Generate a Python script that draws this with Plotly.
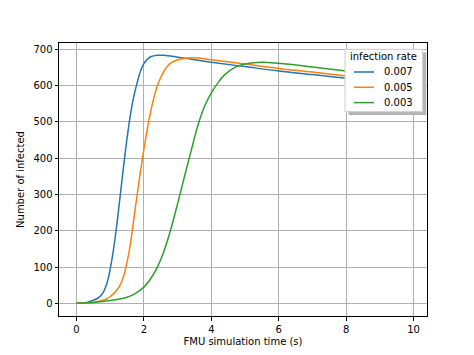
import plotly.graph_objects as go

# --- data ---
t_007 = [0, 0.3, 0.5, 0.6, 0.7, 0.8, 0.9, 1.0, 1.1, 1.2, 1.3, 1.4, 1.5, 1.6, 1.7, 1.8, 1.9, 2.0, 2.1, 2.2, 2.4, 2.6, 3.0, 3.5, 4.0, 5.0, 6.0, 7.0, 8.0, 9.0, 9.9]
v_007 = [1, 3, 9, 13, 20, 32, 55, 95, 150, 220, 300, 380, 455, 520, 570, 608, 640, 660, 672, 679, 683, 683, 678, 671, 664, 652, 640, 630, 620, 611, 603]

t_005 = [0, 0.5, 0.7, 0.9, 1.0, 1.1, 1.2, 1.3, 1.4, 1.5, 1.6, 1.7, 1.8, 1.9, 2.0, 2.1, 2.2, 2.3, 2.4, 2.5, 2.6, 2.7, 2.8, 3.0, 3.3, 3.6, 4.0, 5.0, 6.0, 7.0, 8.0, 9.0, 9.9]
v_005 = [1, 3, 7, 13, 19, 27, 37, 52, 76, 114, 165, 232, 300, 365, 425, 480, 528, 568, 600, 622, 640, 653, 662, 671, 676, 676, 671, 659, 647, 637, 626, 616, 607]

t_003 = [0, 0.5, 1.0, 1.5, 1.75, 2.0, 2.2, 2.4, 2.6, 2.8, 3.0, 3.2, 3.4, 3.6, 3.8, 4.0, 4.2, 4.4, 4.7, 5.0, 5.5, 6.0, 7.0, 8.0, 9.0, 9.9]
v_003 = [1, 3, 8, 17, 28, 45, 68, 100, 145, 205, 275, 348, 420, 490, 543, 580, 608, 630, 650, 659, 664, 661, 651, 640, 629, 619]

series_names = ["0.007", "0.005", "0.003"]
series_t = [t_007, t_005, t_003]
series_v = [v_007, v_005, v_003]
colors = ["#1f77b4", "#ff7f0e", "#2ca02c"]

x_ticks = [0, 2, 4, 6, 8, 10]
y_ticks = [0, 100, 200, 300, 400, 500, 600, 700]
legend_title = "infection rate"

FONT = "DejaVu Sans"

fig = go.Figure()
for name, t, v, c in zip(series_names, series_t, series_v, colors):
    fig.add_trace(go.Scatter(
        x=t, y=v, mode="lines", name=name, showlegend=False,
        line=dict(color=c, width=1.5, shape="spline", smoothing=1.0),
    ))

axis_common = dict(
    showline=True, mirror=True, linecolor="black", linewidth=1,
    ticks="outside", ticklen=3.5, tickwidth=1, tickcolor="black",
    showgrid=True, gridcolor="#b0b0b0", gridwidth=0.8,
    zeroline=False, automargin=False,
    tickfont=dict(family=FONT, size=10, color="black"),
)

# page body has an 8px default margin, so the figure is 8px smaller
fig.update_layout(
    width=466, height=347,
    margin=dict(l=51, r=47, t=35, b=39),
    paper_bgcolor="white", plot_bgcolor="white",
    font=dict(family=FONT, size=10, color="black"),
    showlegend=False,
    xaxis=dict(range=[-0.52, 10.4], tickvals=x_ticks,
               title=dict(text="FMU simulation time (s)", font=dict(family=FONT, size=10), standoff=4),
               **axis_common),
    yaxis=dict(range=[-34.5, 717], tickvals=y_ticks,
               title=dict(text="Number of infected", font=dict(family=FONT, size=10), standoff=6),
               **axis_common),
)

# legend drawn as a framed box with a drop shadow (paper coordinates)
def px_x(px):
    return (px - 59) / 368.0

def px_y(py):
    return (316 - py) / 273.0

shapes = [
    dict(type="rect", xref="paper", yref="paper",
         x0=px_x(348.5), x1=px_x(426.2), y0=px_y(115), y1=px_y(52.6),
         fillcolor="#b4b4b4", line=dict(width=0), layer="above"),
    dict(type="rect", xref="paper", yref="paper",
         x0=px_x(345), x1=px_x(422.7), y0=px_y(111.7), y1=px_y(49.3),
         fillcolor="white", line=dict(color="#cccccc", width=1), layer="above"),
]
annotations = [
    dict(xref="paper", yref="paper", x=px_x(383.5), y=px_y(56.5), text=legend_title,
         showarrow=False, xanchor="center", yanchor="middle",
         font=dict(family=FONT, size=10, color="black")),
]
row_y = [72.0, 87.3, 102.6]
for name, c, ry in zip(series_names, colors, row_y):
    shapes.append(dict(type="line", xref="paper", yref="paper",
                       x0=px_x(354), x1=px_x(374), y0=px_y(ry), y1=px_y(ry),
                       line=dict(color=c, width=1.5), layer="above"))
    annotations.append(dict(xref="paper", yref="paper", x=px_x(382), y=px_y(ry), text=name,
                            showarrow=False, xanchor="left", yanchor="middle",
                            font=dict(family=FONT, size=10, color="black")))

fig.update_layout(shapes=shapes, annotations=annotations)

fig.write_html("out.html")
